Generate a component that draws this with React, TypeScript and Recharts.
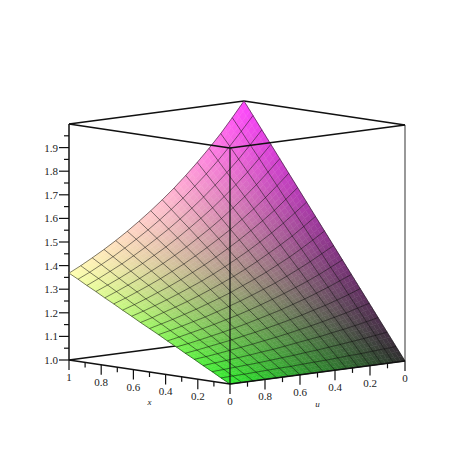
import React from 'react';
import { ScatterChart, Scatter, XAxis, YAxis } from 'recharts';

// grid positions of the surface
const xGrid = [0, 0.056, 0.111, 0.167, 0.222, 0.278, 0.333, 0.389, 0.444, 0.5, 0.556, 0.611, 0.667, 0.722, 0.778, 0.833, 0.889, 0.944, 1];
const uGrid = [0, 0.067, 0.133, 0.2, 0.267, 0.333, 0.4, 0.467, 0.533, 0.6, 0.667, 0.733, 0.8, 0.867, 0.933, 1];

// surface height, one row per xGrid entry, one column per uGrid entry
const heightRows = [
  [1, 1, 1, 1, 1, 1, 1, 1, 1, 1, 1, 1, 1, 1, 1, 1],
  [1.056, 1.052, 1.049, 1.045, 1.043, 1.04, 1.037, 1.035, 1.033, 1.03, 1.029, 1.027, 1.025, 1.023, 1.022, 1.02],
  [1.111, 1.104, 1.097, 1.091, 1.085, 1.08, 1.074, 1.07, 1.065, 1.061, 1.057, 1.053, 1.05, 1.047, 1.044, 1.041],
  [1.167, 1.156, 1.146, 1.136, 1.128, 1.119, 1.112, 1.105, 1.098, 1.091, 1.086, 1.08, 1.075, 1.07, 1.066, 1.061],
  [1.222, 1.208, 1.194, 1.182, 1.17, 1.159, 1.149, 1.139, 1.13, 1.122, 1.114, 1.107, 1.1, 1.093, 1.087, 1.082],
  [1.278, 1.26, 1.243, 1.227, 1.213, 1.199, 1.186, 1.174, 1.163, 1.152, 1.143, 1.133, 1.125, 1.117, 1.109, 1.102],
  [1.333, 1.312, 1.292, 1.273, 1.255, 1.239, 1.223, 1.209, 1.196, 1.183, 1.171, 1.16, 1.15, 1.14, 1.131, 1.123],
  [1.389, 1.364, 1.34, 1.318, 1.298, 1.279, 1.261, 1.244, 1.228, 1.213, 1.2, 1.187, 1.175, 1.164, 1.153, 1.143],
  [1.444, 1.416, 1.389, 1.364, 1.34, 1.318, 1.298, 1.279, 1.261, 1.244, 1.228, 1.213, 1.2, 1.187, 1.175, 1.164],
  [1.5, 1.468, 1.438, 1.409, 1.383, 1.358, 1.335, 1.314, 1.293, 1.274, 1.257, 1.24, 1.225, 1.21, 1.197, 1.184],
  [1.556, 1.52, 1.486, 1.455, 1.426, 1.398, 1.372, 1.348, 1.326, 1.305, 1.285, 1.267, 1.25, 1.234, 1.218, 1.204],
  [1.611, 1.572, 1.535, 1.5, 1.468, 1.438, 1.41, 1.383, 1.358, 1.335, 1.314, 1.294, 1.275, 1.257, 1.24, 1.225],
  [1.667, 1.624, 1.583, 1.546, 1.511, 1.478, 1.447, 1.418, 1.391, 1.366, 1.342, 1.32, 1.3, 1.28, 1.262, 1.245],
  [1.722, 1.676, 1.632, 1.591, 1.553, 1.517, 1.484, 1.453, 1.424, 1.396, 1.371, 1.347, 1.325, 1.304, 1.284, 1.266],
  [1.778, 1.728, 1.681, 1.637, 1.596, 1.557, 1.521, 1.488, 1.456, 1.427, 1.399, 1.374, 1.349, 1.327, 1.306, 1.286],
  [1.833, 1.78, 1.729, 1.682, 1.638, 1.597, 1.559, 1.523, 1.489, 1.457, 1.428, 1.4, 1.374, 1.35, 1.328, 1.307],
  [1.889, 1.832, 1.778, 1.728, 1.681, 1.637, 1.596, 1.557, 1.521, 1.488, 1.456, 1.427, 1.399, 1.374, 1.35, 1.327],
  [1.944, 1.884, 1.827, 1.773, 1.723, 1.677, 1.633, 1.592, 1.554, 1.518, 1.485, 1.454, 1.424, 1.397, 1.371, 1.348],
  [2, 1.936, 1.875, 1.819, 1.766, 1.717, 1.67, 1.627, 1.587, 1.549, 1.513, 1.48, 1.449, 1.42, 1.393, 1.368],
];

// tick values of the three box axes
const zTicks = [1, 1.05, 1.1, 1.15, 1.2, 1.25, 1.3, 1.35, 1.4, 1.45, 1.5, 1.55, 1.6, 1.65, 1.7, 1.75, 1.8, 1.85, 1.9, 1.95];
const xTicks = [1, 0.9, 0.8, 0.7, 0.6, 0.5, 0.4, 0.3, 0.2, 0.1, 0];
const uTicks = [0.9, 0.8, 0.7, 0.6, 0.5, 0.4, 0.3, 0.2, 0.1, 0];
const xLabels = ['1', '', '0.8', '', '0.6', '', '0.4', '', '0.2', '', '0'];
const uLabels = ['', '0.8', '', '0.6', '', '0.4', '', '0.2', '', '0'];

const SIZE = 474;
const FONT = '"Liberation Serif", serif';
const LEFT = 69;
const BASE_Y = 360; // pixel row of z = 1 on the left axis
const Z_PX = 236; // pixels per unit of z
const SUB = 3; // colour steps per mesh cell

// the box is drawn in a fixed orthographic view
const project = (x: number, u: number, z: number) => ({
  sx: 230 - 161 * x + 175 * (1 - u),
  sz: z + (24 * x + 23 * (1 - u) - 24) / Z_PX,
});

const surfacePoints = xGrid.flatMap((x, i) =>
  uGrid.map((u, j) => ({ ...project(x, u, heightRows[i][j]), x, u, z: heightRows[i][j] })),
);

const edge = (a: number[], b: number[]) => [project(a[0], a[1], a[2]), project(b[0], b[1], b[2])];

const backEdges = [
  { pts: edge([1, 1, 1], [1, 0, 1]), w: 1.4, c: '#111' },
  { pts: edge([1, 1, 2], [1, 0, 2]), w: 1.4, c: '#111' },
  { pts: edge([1, 0, 2], [0, 0, 2]), w: 1.4, c: '#111' },
  { pts: edge([0, 0, 1], [0, 0, 2]), w: 1.1, c: '#444' },
  { pts: edge([1, 1, 1], [1, 1, 2]), w: 1.5, c: '#111' },
];
const frontEdges = [
  { pts: edge([1, 1, 2], [0, 1, 2]), w: 1.4, c: '#111' },
  { pts: edge([0, 1, 2], [0, 0, 2]), w: 1.4, c: '#111' },
  { pts: edge([0, 1, 1], [0, 1, 2]), w: 1.2, c: '#111' },
  { pts: edge([1, 1, 1], [0, 1, 1]), w: 1.5, c: '#111' },
  { pts: edge([0, 1, 1], [0, 0, 1]), w: 1.5, c: '#111' },
];

const xTickPoints = xTicks.map((x, i) => ({ ...project(x, 1, 1), label: xLabels[i], major: i % 2 === 0 }));
const uTickPoints = uTicks.map((u, i) => ({ ...project(0, u, 1), label: uLabels[i], major: i % 2 === 1 }));
const axisTitles = [
  { ...project(0.5, 1, 1), title: 'x', dy: 30 },
  { ...project(0, 0.5, 1), title: 'u', dy: 31 },
];

// colour is (x, u, z) as rgb, washed towards white by the light on the x = 1 side
const shade = (x: number, u: number, z: number) => {
  const wash = 0.2 + x * x * (0.08 + 0.25 * Math.min(1, 2 * u));
  const gain = 0.92 + 0.08 * x;
  const ch = (v: number) => Math.round(255 * gain * (1 - (1 - v) * (1 - wash)));
  return `rgb(${Math.min(255, ch(x))},${Math.min(255, ch(u))},${Math.min(255, ch(z - 1))})`;
};

const mix = (a: number, b: number, t: number) => a + (b - a) * t;

const noSymbol = () => null;

function renderSurface(props: any) {
  const pts = props.points as { x: number; y: number }[];
  const rows = xGrid.length;
  const cols = uGrid.length;
  const at = (i: number, j: number) => pts[i * cols + j];
  const cells = [];
  for (let i = 0; i < rows - 1; i++) {
    for (let j = 0; j < cols - 1; j++) {
      // position and colour inside one cell, s along x and t along u
      const pos = (s: number, t: number) => ({
        x: mix(mix(at(i, j).x, at(i, j + 1).x, t), mix(at(i + 1, j).x, at(i + 1, j + 1).x, t), s),
        y: mix(mix(at(i, j).y, at(i, j + 1).y, t), mix(at(i + 1, j).y, at(i + 1, j + 1).y, t), s),
      });
      const tint = (s: number, t: number) =>
        shade(
          mix(xGrid[i], xGrid[i + 1], s),
          mix(uGrid[j], uGrid[j + 1], t),
          mix(mix(heightRows[i][j], heightRows[i][j + 1], t), mix(heightRows[i + 1][j], heightRows[i + 1][j + 1], t), s),
        );
      for (let a = 0; a < SUB; a++) {
        for (let b = 0; b < SUB; b++) {
          const q = [
            pos(a / SUB, b / SUB),
            pos(a / SUB, (b + 1) / SUB),
            pos((a + 1) / SUB, (b + 1) / SUB),
            pos((a + 1) / SUB, b / SUB),
          ];
          const fill = tint((a + 0.5) / SUB, (b + 0.5) / SUB);
          cells.push(
            <polygon key={`c${i}-${j}-${a}-${b}`} points={q.map((p) => `${p.x},${p.y}`).join(' ')} fill={fill} stroke={fill} strokeWidth={0.5} />,
          );
        }
      }
    }
  }
  const mesh = [];
  for (let i = 0; i < rows; i++) {
    const line = uGrid.map((_, j) => at(i, j)).map((p) => `${p.x},${p.y}`).join(' ');
    mesh.push(<polyline key={`r${i}`} points={line} fill="none" stroke="#000" strokeOpacity={0.55} strokeWidth={0.9} />);
  }
  for (let j = 0; j < cols; j++) {
    const line = xGrid.map((_, i) => at(i, j)).map((p) => `${p.x},${p.y}`).join(' ');
    mesh.push(<polyline key={`k${j}`} points={line} fill="none" stroke="#000" strokeOpacity={0.55} strokeWidth={0.9} />);
  }
  return (
    <g>
      {cells}
      {mesh}
    </g>
  );
}

function ZTick({ x, y, payload }: any) {
  const v = payload.value;
  const major = Math.abs(v * 10 - Math.round(v * 10)) < 0.001;
  return (
    <g>
      <line x1={LEFT - (major ? 10 : 5)} x2={LEFT} y1={y} y2={y} stroke="#111" strokeWidth={1.2} />
      {major && (
        <text x={LEFT - 11} y={y} textAnchor="end" dominantBaseline="central" fontFamily={FONT} fontSize={11} fill="#222">
          {v.toFixed(1)}
        </text>
      )}
    </g>
  );
}

function EdgeTick({ cx, cy, payload }: any) {
  return (
    <g>
      <line x1={cx} x2={cx} y1={cy} y2={cy + (payload.major ? 10 : 5)} stroke="#111" strokeWidth={1.2} />
      {payload.label && (
        <text x={cx} y={cy + 17} textAnchor="middle" dominantBaseline="central" fontFamily={FONT} fontSize={11} fill="#222">
          {payload.label}
        </text>
      )}
    </g>
  );
}

function AxisTitle({ cx, cy, payload }: any) {
  return (
    <text x={cx} y={cy + payload.dy} textAnchor="middle" dominantBaseline="central" fontFamily={FONT} fontStyle="italic" fontSize={9} fill="#222">
      {payload.title}
    </text>
  );
}

const edgeSeries = (list: typeof backEdges, prefix: string) =>
  list.map((e, i) => (
    <Scatter
      key={`${prefix}${i}`}
      data={e.pts}
      line={{ stroke: e.c, strokeWidth: e.w }}
      shape={noSymbol}
      isAnimationActive={false}
    />
  ));

export default function App() {
  return (
    <div style={{ position: 'absolute', left: 0, top: 0, width: SIZE, height: SIZE, background: '#fff' }}>
      <ScatterChart width={SIZE} height={SIZE} margin={{ top: 0, right: 0, bottom: 0, left: 0 }}>
        <XAxis type="number" dataKey="sx" domain={[LEFT, SIZE]} hide />
        <YAxis
          type="number"
          dataKey="sz"
          width={LEFT}
          domain={[1 - (SIZE - BASE_Y) / Z_PX, 1 + BASE_Y / Z_PX]}
          ticks={zTicks}
          interval={0}
          axisLine={false}
          tickLine={false}
          tickSize={0}
          tickMargin={0}
          tick={ZTick}
        />
        {edgeSeries(backEdges, 'back')}
        <Scatter data={surfacePoints} line={renderSurface} shape={noSymbol} isAnimationActive={false} />
        {edgeSeries(frontEdges, 'front')}
        <Scatter data={xTickPoints} shape={EdgeTick} isAnimationActive={false} />
        <Scatter data={uTickPoints} shape={EdgeTick} isAnimationActive={false} />
        <Scatter data={axisTitles} shape={AxisTitle} isAnimationActive={false} />
      </ScatterChart>
    </div>
  );
}
